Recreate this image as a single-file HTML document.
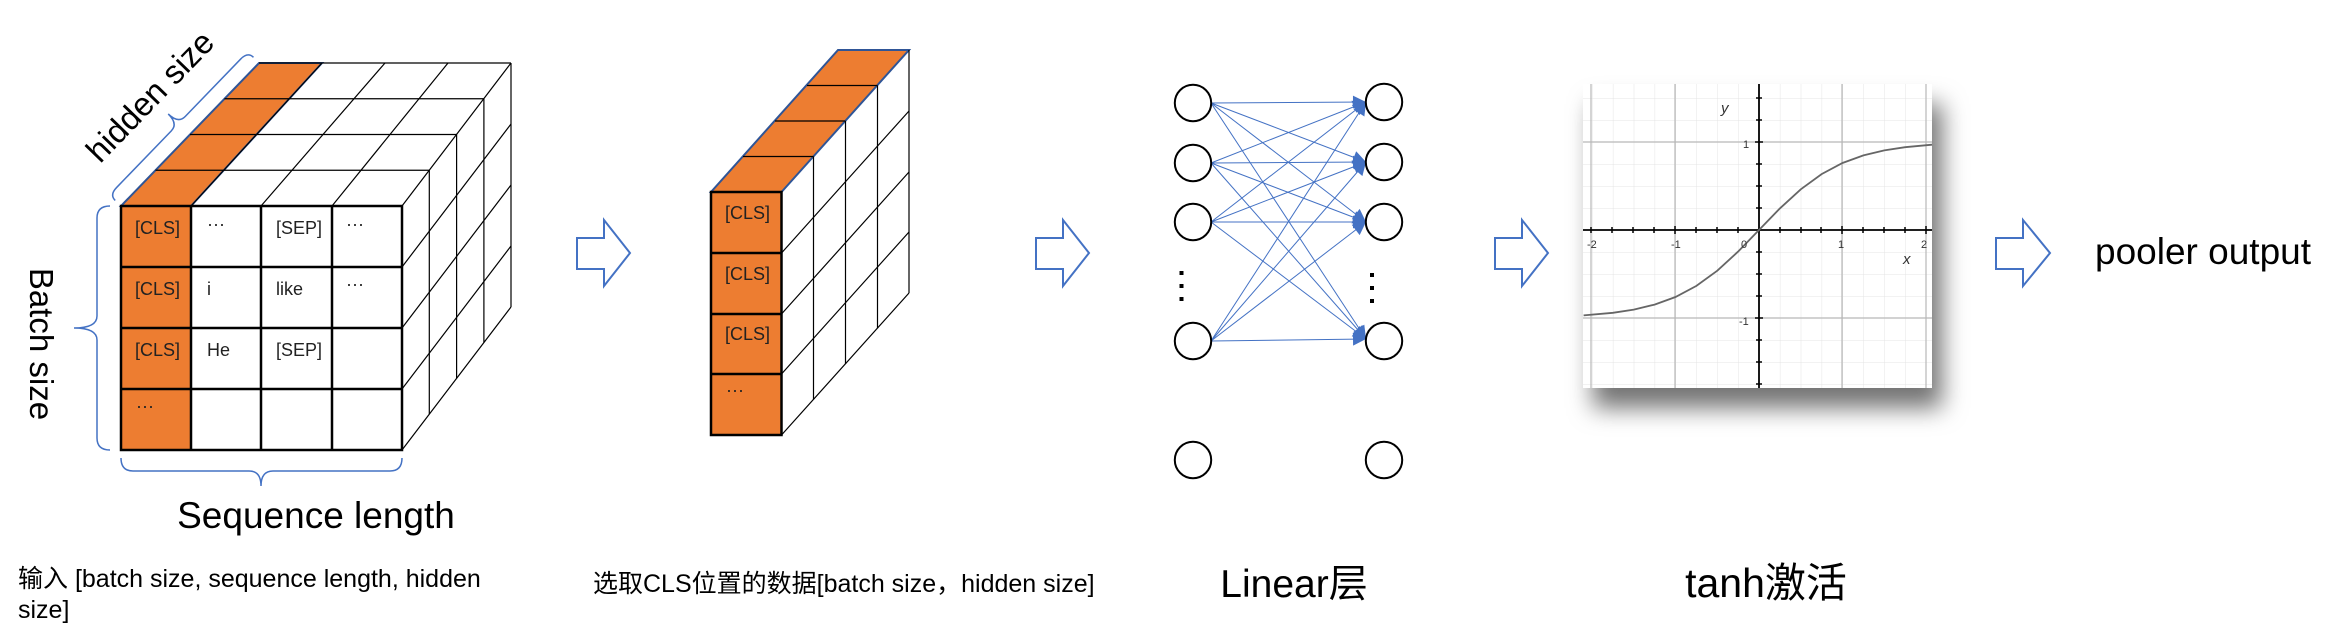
<!DOCTYPE html>
<html><head><meta charset="utf-8"><style>
html,body{margin:0;padding:0;background:#fff;}
svg{display:block;}
text{font-family:"Liberation Sans","Noto Sans CJK SC",sans-serif;}
</style></head><body>
<svg width="2341" height="639" viewBox="0 0 2341 639" xmlns="http://www.w3.org/2000/svg">
<defs>
<marker id="ah" viewBox="0 0 10 10" markerWidth="14" markerHeight="13" refX="10" refY="5" orient="auto" markerUnits="userSpaceOnUse"><path d="M0,0 L10,5 L0,10 z" fill="#4472c4"/></marker>
<pattern id="minor" patternUnits="userSpaceOnUse" x="1759" y="230" width="20.875" height="22"><path d="M0,0 V22 M0,0 H20.875" stroke="#e4e4e4" stroke-width="1" fill="none"/></pattern>
<filter id="sh" x="-20%" y="-20%" width="150%" height="150%"><feDropShadow dx="10" dy="20" stdDeviation="12" flood-color="#000" flood-opacity="0.55"/></filter>
</defs>
<rect width="2341" height="639" fill="#fff"/>

<!-- ===== Cube 1 ===== -->
<polygon points="121,206 191,206 322,63 259,63" fill="#ed7d31" stroke="#2f5597" stroke-width="2"/>
<rect x="121" y="206" width="70" height="244" fill="#ed7d31"/>
<g stroke="#000" stroke-width="1.2" fill="none">
<line x1="191" y1="206" x2="322" y2="63"/>
<line x1="261" y1="206" x2="385" y2="63"/>
<line x1="332" y1="206" x2="448" y2="63"/>
<line x1="402" y1="206" x2="511" y2="63"/>
<line x1="155.5" y1="170.25" x2="429.3" y2="170.25"/>
<line x1="190" y1="134.5" x2="456.6" y2="134.5"/>
<line x1="224.5" y1="98.75" x2="483.9" y2="98.75"/>
<line x1="259" y1="63" x2="511" y2="63"/>
<line x1="402" y1="267" x2="511" y2="124"/>
<line x1="402" y1="328" x2="511" y2="185"/>
<line x1="402" y1="389" x2="511" y2="246"/>
<line x1="402" y1="450" x2="511" y2="307"/>
<line x1="429.3" y1="170.25" x2="429.3" y2="414.25"/>
<line x1="456.6" y1="134.5" x2="456.6" y2="378.5"/>
<line x1="483.9" y1="98.75" x2="483.9" y2="342.75"/>
<line x1="511" y1="63" x2="511" y2="307"/>
</g>
<g stroke="#000" stroke-width="2.5" fill="none">
<rect x="121" y="206" width="281" height="244"/>
<line x1="191" y1="206" x2="191" y2="450"/>
<line x1="261" y1="206" x2="261" y2="450"/>
<line x1="332" y1="206" x2="332" y2="450"/>
<line x1="121" y1="267" x2="402" y2="267"/>
<line x1="121" y1="328" x2="402" y2="328"/>
<line x1="121" y1="389" x2="402" y2="389"/>
</g>
<g font-size="18" fill="#222">
<text x="135" y="234">[CLS]</text><text x="207" y="230">···</text><text x="276" y="234">[SEP]</text><text x="346" y="230">···</text>
<text x="135" y="295">[CLS]</text><text x="207" y="295">i</text><text x="276" y="295">like</text><text x="346" y="290">···</text>
<text x="135" y="356">[CLS]</text><text x="207" y="356">He</text><text x="276" y="356">[SEP]</text>
<text x="136" y="412">···</text>
</g>
<g stroke="#4472c4" stroke-width="1.5" fill="none">
<path d="M110,206 Q97,206 97,218 L97,316 Q97,328 74,328 Q97,328 97,340 L97,438 Q97,450 110,450"/>
<path d="M121,458 Q121,471 133,471 L249,471 Q261,471 261,486 Q261,471 273,471 L390,471 Q402,471 402,458"/>
<g transform="translate(121,206) rotate(-46)">
<path d="M0,-8 Q0,-16 10,-16 L89,-16 Q99,-16 99,-30 Q99,-16 109,-16 L189,-16 Q199,-16 199,-8"/>
</g>
</g>
<text transform="translate(121,206) rotate(-46)" x="99" y="-44" font-size="33" text-anchor="middle" fill="#000">hidden size</text>
<text transform="translate(42,344) rotate(90)" x="0" y="12" font-size="33" text-anchor="middle" fill="#000">Batch size</text>
<text x="316" y="528" font-size="37" text-anchor="middle" fill="#000">Sequence length</text>
<text x="18" y="587" font-size="25" fill="#000">输入 [batch size, sequence length, hidden</text>
<text x="18" y="618" font-size="25" fill="#000">size]</text>

<!-- ===== Cube 2 ===== -->
<polygon points="711,192 781.5,192 909,50 838,50" fill="#ed7d31" stroke="#2f5597" stroke-width="2"/>
<rect x="711" y="192" width="70.5" height="243" fill="#ed7d31"/>
<g stroke="#000" stroke-width="1.2" fill="none">
<line x1="743" y1="156.5" x2="813.5" y2="156.5"/>
<line x1="775" y1="121" x2="845.5" y2="121"/>
<line x1="807" y1="85.5" x2="877.5" y2="85.5"/>
<line x1="781.5" y1="253" x2="909" y2="111"/>
<line x1="781.5" y1="314" x2="909" y2="172"/>
<line x1="781.5" y1="374" x2="909" y2="232"/>
<line x1="781.5" y1="435" x2="909" y2="293"/>
<line x1="813.5" y1="156.5" x2="813.5" y2="399.5"/>
<line x1="845.5" y1="121" x2="845.5" y2="364"/>
<line x1="877.5" y1="85.5" x2="877.5" y2="328.5"/>
<line x1="909" y1="50" x2="909" y2="293"/>
</g>
<g stroke="#000" stroke-width="2.5" fill="none">
<rect x="711" y="192" width="70.5" height="243"/>
<line x1="711" y1="253" x2="781.5" y2="253"/>
<line x1="711" y1="314" x2="781.5" y2="314"/>
<line x1="711" y1="374" x2="781.5" y2="374"/>
</g>
<g font-size="18" fill="#222">
<text x="725" y="219">[CLS]</text>
<text x="725" y="280">[CLS]</text>
<text x="725" y="340">[CLS]</text>
<text x="726" y="396">···</text>
</g>
<text x="593" y="592" font-size="25" fill="#000">选取CLS位置的数据[batch size，hidden size]</text>

<!-- ===== Arrows ===== -->
<g stroke="#4472c4" stroke-width="2" fill="#fff">
<path d="M577,238 L604,238 L604,220 L630,253 L604,286 L604,269 L577,269 Z"/>
<path d="M1036,238 L1063,238 L1063,220 L1089,253 L1063,286 L1063,269 L1036,269 Z"/>
<path d="M1495,238 L1522,238 L1522,220 L1548,253 L1522,286 L1522,269 L1495,269 Z"/>
<path d="M1996,238 L2023,238 L2023,220 L2050,253 L2023,286 L2023,269 L1996,269 Z"/>
</g>

<!-- ===== Network ===== -->
<g stroke="#4472c4" stroke-width="1" fill="none" marker-end="url(#ah)">
<line x1="1211" y1="103" x2="1366" y2="102"/><line x1="1211" y1="103" x2="1366" y2="162"/><line x1="1211" y1="103" x2="1366" y2="222"/><line x1="1211" y1="103" x2="1366" y2="339"/>
<line x1="1211" y1="163" x2="1366" y2="102"/><line x1="1211" y1="163" x2="1366" y2="162"/><line x1="1211" y1="163" x2="1366" y2="222"/><line x1="1211" y1="163" x2="1366" y2="339"/>
<line x1="1211" y1="222" x2="1366" y2="102"/><line x1="1211" y1="222" x2="1366" y2="162"/><line x1="1211" y1="222" x2="1366" y2="222"/><line x1="1211" y1="222" x2="1366" y2="339"/>
<line x1="1211" y1="341" x2="1366" y2="102"/><line x1="1211" y1="341" x2="1366" y2="162"/><line x1="1211" y1="341" x2="1366" y2="222"/><line x1="1211" y1="341" x2="1366" y2="339"/>
</g>
<g stroke="#000" stroke-width="2" fill="none">
<circle cx="1193" cy="103" r="18.2"/><circle cx="1193" cy="163" r="18.2"/><circle cx="1193" cy="222" r="18.2"/><circle cx="1193" cy="341" r="18.2"/><circle cx="1193" cy="460" r="18.2"/>
<circle cx="1384" cy="102" r="18.2"/><circle cx="1384" cy="162" r="18.2"/><circle cx="1384" cy="222" r="18.2"/><circle cx="1384" cy="341" r="18.2"/><circle cx="1384" cy="460" r="18.2"/>
</g>
<g fill="#000">
<rect x="1179.5" y="271" width="4" height="4"/><rect x="1179.5" y="284" width="4" height="4"/><rect x="1179.5" y="297" width="4" height="4"/>
<rect x="1370" y="273" width="4" height="4"/><rect x="1370" y="286" width="4" height="4"/><rect x="1370" y="299" width="4" height="4"/>
</g>
<text x="1294" y="597" font-size="39" text-anchor="middle" fill="#000">Linear层</text>

<!-- ===== tanh plot ===== -->
<rect x="1583" y="84" width="349" height="304" fill="#fff" filter="url(#sh)"/>
<rect x="1583" y="84" width="349" height="304" fill="url(#minor)"/>
<g stroke="#b8b8b8" stroke-width="1.2">
<line x1="1591" y1="84" x2="1591" y2="388"/><line x1="1675" y1="84" x2="1675" y2="388"/><line x1="1842" y1="84" x2="1842" y2="388"/><line x1="1926" y1="84" x2="1926" y2="388"/>
<line x1="1583" y1="142" x2="1932" y2="142"/><line x1="1583" y1="318" x2="1932" y2="318"/>
</g>
<g stroke="#000" stroke-width="1.8">
<line x1="1583" y1="230" x2="1932" y2="230"/>
<line x1="1759" y1="84" x2="1759" y2="388"/>
</g>
<g stroke="#000" stroke-width="1.5">
<path d="M1591,227v6M1612,227v6M1633,227v6M1654,227v6M1675,226v8M1696,227v6M1717,227v6M1738,227v6M1780,227v6M1801,227v6M1821,227v6M1842,226v8M1863,227v6M1884,227v6M1905,227v6M1926,226v8"/>
<path d="M1756,98h6M1756,120h6M1755,142h8M1756,164h6M1756,186h6M1756,208h6M1756,252h6M1756,274h6M1756,296h6M1755,318h8M1756,340h6M1756,362h6M1756,384h6"/>
</g>
<path d="M1583.6,315.4 L1612.9,312.8 L1633.8,309.6 L1654.6,304.6 L1675.5,297 L1696.4,285.9 L1717.3,270.7 L1738.1,251.6 L1759,230 L1779.9,208.4 L1800.8,189.3 L1821.6,174.1 L1842.5,163 L1863.4,155.4 L1884.3,150.4 L1905.1,147.2 L1932,144.7" stroke="#666" stroke-width="1.8" fill="none"/>
<g font-size="11" fill="#333">
<text x="1587" y="248">-2</text><text x="1671" y="248">-1</text><text x="1741" y="248">0</text><text x="1838" y="248">1</text><text x="1921" y="248">2</text>
<text x="1743" y="148">1</text><text x="1739" y="325">-1</text>
</g>
<text x="1721" y="113" font-size="15" font-style="italic" font-family="Liberation Serif, serif" fill="#333">y</text>
<text x="1903" y="264" font-size="15" font-style="italic" font-family="Liberation Serif, serif" fill="#333">x</text>
<text x="1766" y="597" font-size="41" text-anchor="middle" fill="#000">tanh激活</text>

<text x="2095" y="264" font-size="37" fill="#000">pooler output</text>
</svg>
</body></html>
